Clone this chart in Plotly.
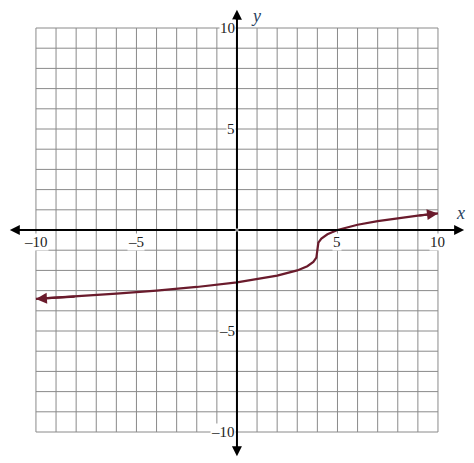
import plotly.graph_objects as go

# curve points
curve_x = [-10, -8, -6, -4, -2, 0, 1, 2, 3, 3.5, 3.8, 3.95, 4, 4.05, 4.2, 4.5, 5, 6, 7, 8, 9, 10]
curve_y = [-3.41, -3.29, -3.15, -3.0, -2.82, -2.59, -2.44, -2.26, -2.0, -1.79, -1.58, -1.37,
           -1.0, -0.63, -0.42, -0.21, 0.0, 0.26, 0.44, 0.59, 0.71, 0.82]
tick_vals = [-10, -5, 5, 10]
tick_text = ['–10', '–5', '5', '10']

maroon = '#6a1b2c'
font = dict(family='Liberation Serif', size=15, color='#222')

fig = go.Figure()
fig.add_trace(go.Scatter(x=curve_x, y=curve_y, mode='lines',
                         line=dict(color=maroon, width=2.2), hoverinfo='skip'))

shapes = []
for k in range(-10, 11):
    shapes.append(dict(type='line', x0=k, x1=k, y0=-10, y1=10, layer='below',
                       line=dict(color='#8a8a8a', width=1)))
    shapes.append(dict(type='line', x0=-10, x1=10, y0=k, y1=k, layer='below',
                       line=dict(color='#8a8a8a', width=1)))

ann = []
# axes with arrowheads at both ends
for (x, y) in [(11.3, 0), (-11.3, 0)]:
    ann.append(dict(x=x, y=y, ax=0, ay=0, axref='x', ayref='y', xref='x', yref='y',
                    showarrow=True, arrowhead=2, arrowsize=1, arrowwidth=2, arrowcolor='black', text=''))
for (x, y) in [(0, 10.9), (0, -11.2)]:
    ann.append(dict(x=x, y=y, ax=0, ay=0, axref='x', ayref='y', xref='x', yref='y',
                    showarrow=True, arrowhead=2, arrowsize=1, arrowwidth=2, arrowcolor='black', text=''))
# curve end arrows
ann.append(dict(x=curve_x[0], y=curve_y[0], ax=curve_x[1], ay=curve_y[1], axref='x', ayref='y',
                showarrow=True, arrowhead=2, arrowwidth=2.2, arrowcolor=maroon, text=''))
ann.append(dict(x=curve_x[-1], y=curve_y[-1], ax=curve_x[-2], ay=curve_y[-2], axref='x', ayref='y',
                showarrow=True, arrowhead=2, arrowwidth=2.2, arrowcolor=maroon, text=''))
for v, t in zip(tick_vals, tick_text):
    ann.append(dict(x=v, y=-0.15, text=t, showarrow=False, yanchor='top', font=font,
                    bgcolor='white', borderpad=0))
    ann.append(dict(x=-0.05, y=v, text=t, showarrow=False, xanchor='right', font=font,
                    bgcolor='white', borderpad=0))
ann.append(dict(x=10.8, y=0.25, text='<i>x</i>', showarrow=False, yanchor='bottom',
                xanchor='left', font=dict(family='Liberation Serif', size=18)))
ann.append(dict(x=0.6, y=10.6, text='<i>y</i>', showarrow=False, xanchor='left',
                font=dict(family='Liberation Serif', size=18)))

fig.update_layout(
    width=474, height=463, margin=dict(l=0, r=0, t=0, b=0),
    plot_bgcolor='white', paper_bgcolor='white', showlegend=False,
    shapes=shapes, annotations=ann,
    xaxis=dict(range=[-11.39, 12.19], visible=False, fixedrange=True),
    yaxis=dict(range=[-11.93, 10.99], visible=False, fixedrange=True),
)

fig.write_html('out.html')
